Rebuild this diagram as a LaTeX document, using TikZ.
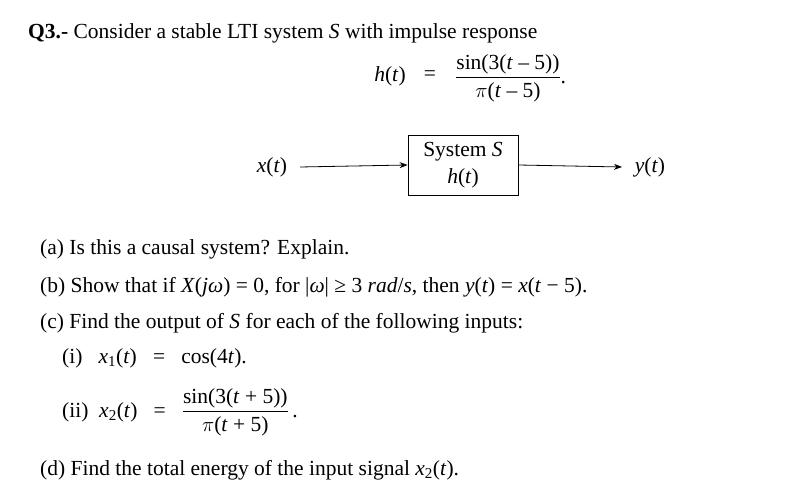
\documentclass[tikz,border=0pt]{standalone}
\usepackage{amsmath}
\usepackage{fontspec}
\setmainfont{Liberation Serif}
\usetikzlibrary{arrows.meta}
\newcommand{\vi}[1]{\textit{#1}}
\begin{document}
\begin{tikzpicture}[x=1pt,y=-1pt,
  t/.style={anchor=west,inner sep=0pt,font=\fontsize{21.5}{25}\selectfont},
  c/.style={inner sep=0pt,font=\fontsize{21.5}{25}\selectfont},
  ar/.style={-{Stealth[length=8pt,width=6pt]},line width=0.8pt}]
\useasboundingbox (0,0) rectangle (811,486);
\node[t] (q) at (28,33) {\textbf{Q3.-} Consider a stable LTI system \vi{S} with impulse response};
\node[c] (h) at (390,76) {\vi{h}(\vi{t})};
\node[c] (eq) at (430,76) {=};
\node[c,anchor=west] (hf) at (455,78) {$\dfrac{\text{sin(3(\vi{t} – 5))}}{\text{$\pi$(\vi{t} – 5)}}$.};
\node[draw,line width=0.8pt,minimum width=110pt,minimum height=60pt,align=center,c] (S) at (463,165) {System \vi{S}\\[2pt] \vi{h}(\vi{t})};
\node[c] (x) at (272,167) {\vi{x}(\vi{t})};
\node[c] (y) at (650,167) {\vi{y}(\vi{t})};
\coordinate (xe) at (300,167);
\coordinate (ye) at (622,167);
\draw[ar] (xe) -- (S.west);
\draw[ar] (S.east) -- (ye);
\node[t] (a) at (40,249) {(a) Is this a causal system? Explain.};
\node[t] (b) at (40,287) {(b) Show that if \vi{X}(\vi{jω}) = 0, for |\vi{ω}| ≥ 3 \vi{rad}/\vi{s}, then \vi{y}(\vi{t}) = \vi{x}(\vi{t} − 5).};
\node[t] (cc) at (40,323) {(c) Find the output of \vi{S} for each of the following inputs:};
\node[t] (i) at (62,358) {(i)\ \ \ \vi{x}\textsubscript{1}(\vi{t})\ \ \ =\ \ \ cos(4\vi{t}).};
\node[t] (ii) at (62,412) {(ii)\ \ \vi{x}\textsubscript{2}(\vi{t})\ \ \ =\ \ \ $\dfrac{\text{sin(3(\vi{t} + 5))}}{\text{$\pi$(\vi{t} + 5)}}$\,.};
\node[t] (d) at (40,470) {(d) Find the total energy of the input signal \vi{x}\textsubscript{2}(\vi{t}).};
\end{tikzpicture}
\end{document}
